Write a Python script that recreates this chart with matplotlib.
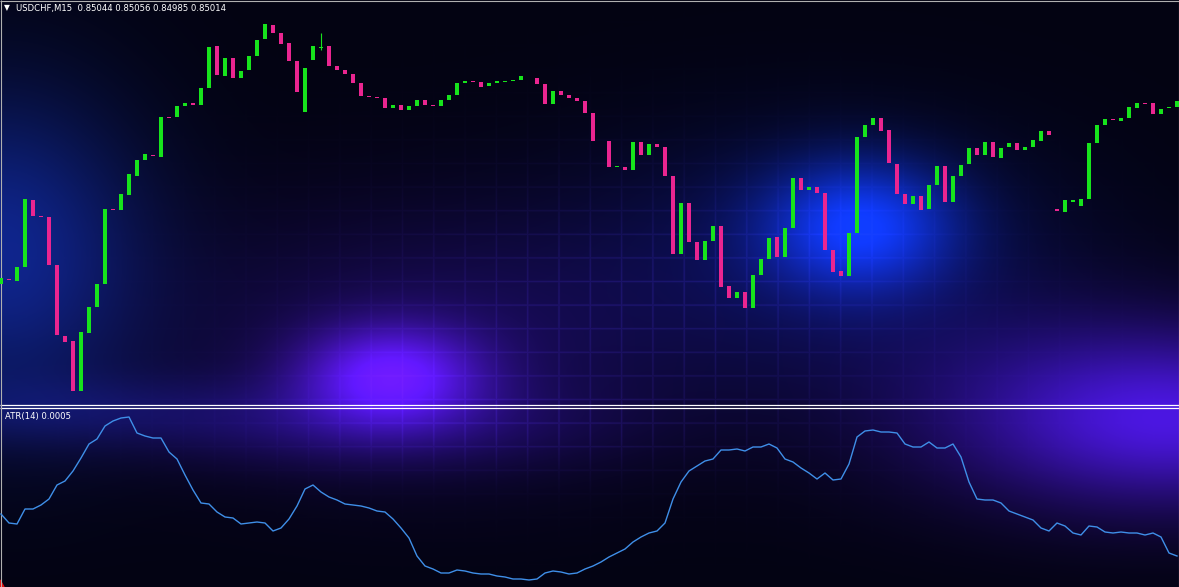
"""
USDCHF M15 candles with ATR(14) sub-window, MetaTrader style
"""
import matplotlib
matplotlib.use('Agg')
import matplotlib.pyplot as plt
import numpy as np

# prices in points (1 point = 0.00001), None = bar not visible
opens = [84833, 84838, 84836, 84850, 84917, 84901, 84900, 84852, 84781, 84776,
         84726, 84784, 84810, 84833, 84908, 84907, 84922, 84941, 84957, 84962,
         84960, 85000, 85000, 85011, 85014, 85012, 85029, 85071, 85041, 85059,
         85039, 85047, 85061, 85078, 85092, 85084, 85074, 85056, 85005, 85057,
         85069, 85071, 85051, 85047, 85043, 85034, 85021, 85020, 85019, 85009,
         85012, 85007, 85011, 85017, 85012, 85011, 85017, 85022, 85034, 85036,
         85035, 85031, 85034, 85035, 85036, 85037, None, 85039, 85033, 85013,
         85026, 85022, 85019, 85016, 85004, None, 84976, 84950, 84950, 84947,
         84975, 84962, 84973, 84970, 84941, 84863, 84914, 84875, 84857, 84876,
         84891, 84831, 84819, 84825, 84809, 84842, 84858, 84880, 84860, 84889,
         84939, 84927, 84930, 84924, 84867, 84846, 84841, 84884, 84980, 84992,
         84999, 84987, 84953, 84923, 84913, 84921, 84908, 84932, 84951, 84915,
         84941, 84953, 84969, 84962, 84975, 84959, 84970, 84974, 84967, 84970,
         84976, 84986, 84908, 84905, 84915, 84911, 84918, 84974, 84992, 84998,
         84996, 84999, 85009, 85014, 85014, 85003, 85009, 85010]
closes = [84839, 84837, 84850, 84918, 84901, 84900, 84852, 84782, 84775, 84726,
          84785, 84810, 84833, 84908, 84907, 84923, 84943, 84957, 84963, 84961,
          85000, 84999, 85011, 85014, 85012, 85029, 85070, 85042, 85059, 85039,
          85046, 85061, 85077, 85093, 85084, 85073, 85056, 85025, 85049, 85071,
          85070, 85051, 85047, 85043, 85034, 85021, 85020, 85019, 85009, 85012,
          85007, 85011, 85017, 85012, 85011, 85017, 85022, 85034, 85036, 85035,
          85030, 85034, 85036, 85036, 85037, 85041, None, 85033, 85013, 85026,
          85022, 85019, 85016, 85004, 84976, None, 84950, 84951, 84947, 84975,
          84962, 84973, 84970, 84941, 84863, 84914, 84875, 84857, 84876, 84891,
          84830, 84819, 84825, 84809, 84842, 84858, 84879, 84860, 84889, 84939,
          84927, 84930, 84924, 84867, 84845, 84841, 84884, 84980, 84992, 84999,
          84986, 84954, 84923, 84913, 84921, 84907, 84932, 84951, 84915, 84941,
          84952, 84969, 84962, 84975, 84960, 84969, 84974, 84967, 84970, 84977,
          84986, 84982, 84906, 84917, 84917, 84918, 84974, 84992, 84998, 84997,
          84999, 85010, 85014, 85013, 85003, 85008, 85010, 85016]
# the only visible wick (bar index, high, low)
wick_bar, wick_high, wick_low = 40, 85084, 85067

atr = [96, 87, 86, 101, 101, 105, 111, 125, 129, 139, 152, 166, 171, 184, 189,
       192, 193, 177, 174, 172, 172, 158, 151, 135, 120, 107, 106, 98, 93, 92,
       86, 87, 88, 87, 79, 82, 91, 104, 121, 125, 118, 113, 110, 106, 105,
       104, 102, 99, 98, 91, 82, 72, 54, 44, 41, 37, 37, 40, 39, 37,
       36, 36, 34, 33, 31, 31, 30, 31, 37, 39, 38, 36, 37, 41, 44,
       48, 53, 57, 61, 68, 73, 77, 79, 87, 111, 128, 139, 144, 149, 151,
       160, 160, 161, 159, 163, 163, 166, 162, 151, 148, 142, 137, 131, 137, 130,
       131, 146, 173, 179, 180, 178, 178, 177, 166, 163, 163, 168, 162, 162, 166,
       153, 128, 111, 110, 110, 107, 99, 96, 93, 90, 82, 79, 87, 84, 77,
       75, 84, 83, 78, 77, 78, 77, 77, 75, 77, 73, 57, 54]

title = 'USDCHF,M15  0.85044 0.85056 0.84985 0.85014'
atr_label = 'ATR(14) 0.0005'

W, H = 1179, 587
UP, DOWN = '#17e41c', '#ea2590'

# ---- background picture (glows + faint grid) ----
Y, X = np.mgrid[0:H, 0:W].astype(float)


def glow(cx, cy, sx, sy):
    return np.exp(-(((X - cx) / sx) ** 2 + ((Y - cy) / sy) ** 2))


img = np.zeros((H, W, 3))
img[:] = np.array([3, 3, 18]) / 255.0
spots = [
    (0, 250, 140, 160, (15, 45, 160), 0.75),
    (390, 375, 90, 50, (105, 20, 240), 0.8),
    (430, 340, 260, 130, (45, 15, 140), 0.45),
    (860, 225, 95, 65, (10, 60, 235), 0.8),
    (820, 250, 230, 120, (10, 25, 130), 0.45),
    (1179, 420, 200, 85, (75, 20, 210), 0.85),
    (1030, 390, 230, 110, (35, 10, 110), 0.4),
    (360, 425, 230, 45, (45, 12, 140), 0.4),
    (60, 410, 220, 35, (15, 20, 90), 0.45),
]
for cx, cy, sx, sy, col, amp in spots:
    img += amp * glow(cx, cy, sx, sy)[..., None] * (np.array(col) / 255.0)

dx = np.abs(((X - 26.4 + 15.65) % 31.3) - 15.65)
dy = np.abs(((Y - 163 + 11.8) % 23.6) - 11.8)
lines = np.maximum(np.exp(-(dx / 0.9) ** 2), np.exp(-(dy / 0.9) ** 2))
grid_w = glow(640, 300, 280, 130) + 0.6 * glow(520, 430, 250, 40)
img += 0.14 * (lines * grid_w)[..., None] * (np.array([90, 60, 230]) / 255.0)
img = np.clip(img, 0, 1)

fig = plt.figure(figsize=(W / 100, H / 100), dpi=100)
bg = fig.add_axes([0, 0, 1, 1])
bg.imshow(img, extent=(0, W, H, 0), aspect='auto', interpolation='bilinear')
bg.set_xlim(0, W)
bg.set_ylim(H, 0)
bg.axis('off')

# window separators and frame
bg.hlines([404.5, 407.5], 0, W, colors='white', linewidth=0.9)
bg.vlines([0.5, W - 0.5], 0, H, colors='#b0b0b0', linewidth=0.8)
bg.hlines([0.5], 0, W, colors='#b0b0b0', linewidth=0.8)
bg.fill([0, 4, 0], [580, 587, 587], color='#e01010')

bg.text(4, 8, '\u25bc', color='white', fontsize=5.5, va='center', ha='left')
bg.text(16, 8, title, color='white', fontsize=6.1, va='center', ha='left')
bg.text(5, 417, atr_label, color='white', fontsize=6.1, va='center', ha='left')

# ---- main window: candles ----
main_h = 403
ax = fig.add_axes([0, (H - main_h) / H, 1, main_h / H])
ax.patch.set_alpha(0)
xs = [i for i in range(len(opens)) if opens[i] is not None]
o = np.array([opens[i] for i in xs]) / 1e5
c = np.array([closes[i] for i in xs]) / 1e5
cols = [UP if cc >= oo else DOWN for oo, cc in zip(o, c)]
ax.vlines(wick_bar, wick_low / 1e5, wick_high / 1e5, colors=UP, linewidth=0.8)
ax.bar(xs, c - o, bottom=o, width=0.5, color=cols, linewidth=0)
ax.set_xlim(-0.125, (W - 1) / 8)
ax.set_ylim(84714 / 1e5, 85117 / 1e5)
ax.axis('off')

# ---- ATR window ----
sub_h = 179
ax2 = fig.add_axes([0, 0, 1, sub_h / H])
ax2.patch.set_alpha(0)
ax2.plot(range(len(atr)), np.array(atr) / 1e5, color='#3f8fe8', linewidth=1.0)
ax2.set_xlim(-0.125, (W - 1) / 8)
ax2.set_ylim(23 / 1e5, 202 / 1e5)
ax2.axis('off')

plt.savefig('out.png', dpi=100)
plt.close()
